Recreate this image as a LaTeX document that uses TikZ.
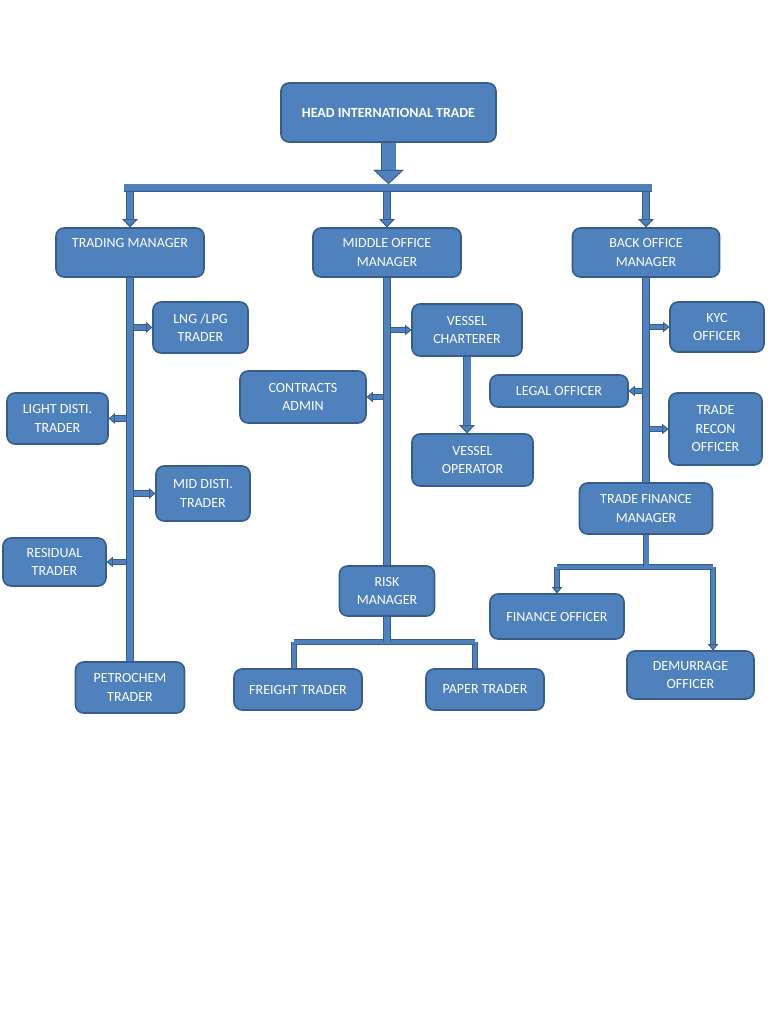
\documentclass[tikz,border=0pt]{standalone}
\usepackage{fontspec}
\setmainfont{Carlito}
\usetikzlibrary{arrows.meta}
\definecolor{boxblue}{RGB}{79,129,189}
\definecolor{edgeblue}{RGB}{56,93,138}

\begin{document}
\begin{tikzpicture}[x=1pt, y=-1pt,
  post/.style={draw=edgeblue, line width=1.6pt, fill=boxblue, rounded corners=8pt,
    text=white, align=center, inner sep=0pt, font=\fontsize{14}{18.5}\selectfont},
  boxsize/.style 2 args={minimum width=#1, minimum height=#2},
  bar/.style={line width=#1, draw=boxblue, preaction={draw=edgeblue, line width=#1+1.6pt}},
  sm/.tip={Triangle[width=10pt, length=6pt, line width=0.8pt, color=edgeblue, fill=boxblue]},
  md/.tip={Triangle[width=15pt, length=8pt, line width=0.8pt, color=edgeblue, fill=boxblue]},
  lg/.tip={Triangle[width=30pt, length=14pt, line width=0.8pt, color=edgeblue, fill=boxblue]}]

  \useasboundingbox (0,0) rectangle (768,1024);

  % --- head and managers ---
  \node[post, boxsize={215}{59}, font=\fontsize{14}{18.5}\selectfont\bfseries] (head) at (388.5,112.5)
    {HEAD INTERNATIONAL TRADE};
  \node[post, boxsize={148}{49}] (tm)  at (130,252.5) {TRADING MANAGER\\\mbox{}};
  \node[post, boxsize={148}{49}] (mom) at (387,252.5) {MIDDLE OFFICE\\MANAGER};
  \node[post, boxsize={147}{49}] (bom) at (646,252.5) {BACK OFFICE\\MANAGER};

  % --- trading desk ---
  \node[post, boxsize={95}{51}]  (lng)   at (200.5,327.5) {LNG /LPG\\TRADER};
  \node[post, boxsize={101}{51}] (light) at (57.5,418.5)  {LIGHT DISTI.\\TRADER};
  \node[post, boxsize={94}{55}]  (mid)   at (203,493.5)   {MID DISTI.\\TRADER};
  \node[post, boxsize={103}{48}] (resid) at (54.5,562)    {RESIDUAL\\TRADER};
  \node[post, boxsize={109}{51}] (petro) at (130,687.5)   {PETROCHEM\\TRADER};

  % --- middle office ---
  \node[post, boxsize={110}{52}] (vch)     at (467,330)   {VESSEL\\CHARTERER};
  \node[post, boxsize={126}{52}] (cadm)    at (303,397)   {CONTRACTS\\ADMIN};
  \node[post, boxsize={121}{52}] (vop)     at (472.5,460) {VESSEL\\OPERATOR};
  \node[post, boxsize={95}{50}]  (risk)    at (387,591)   {RISK\\MANAGER};
  \node[post, boxsize={128}{41}] (freight) at (298,689.5) {FREIGHT TRADER};
  \node[post, boxsize={118}{41}] (paper)   at (485,689.5) {PAPER TRADER};

  % --- back office ---
  \node[post, boxsize={94}{50}]  (kyc)   at (717,327)   {KYC\\OFFICER};
  \node[post, boxsize={138}{32}] (legal) at (559,391)   {LEGAL OFFICER};
  \node[post, boxsize={93}{72}]  (recon) at (715.5,429) {TRADE\\RECON\\OFFICER};
  \node[post, boxsize={133}{51}] (tfm)   at (646,508.5) {TRADE FINANCE\\MANAGER};
  \node[post, boxsize={134}{45}] (fin)   at (557,616.5) {FINANCE OFFICER};
  \node[post, boxsize={127}{48}] (dem)   at (690.5,675) {DEMURRAGE\\OFFICER};

  % --- bus under the head ---
  \coordinate (busL) at (124,188);
  \coordinate (busR) at (652,188);
  \coordinate (busTop) at (388.5,184);
  \foreach \m in {tm, mom, bom}
    \draw[bar=6pt, -md] (\m.north |- busL) -- (\m.north);
  \draw[bar=7pt] (busL) -- (busR);
  \draw[bar=14pt, -lg] (head.south) -- (busTop);

  % --- side feeds ---
  \foreach \t in {lng, mid}
    \draw[bar=4.5pt, -sm] (tm.south |- \t.west) -- (\t.west);
  \foreach \t in {light, resid}
    \draw[bar=4.5pt, -sm] (tm.south |- \t.east) -- (\t.east);
  \draw[bar=4.5pt, -sm] (mom.south |- vch.west) -- (vch.west);
  \draw[bar=4.5pt, -sm] (mom.south |- cadm.east) -- (cadm.east);
  \foreach \t in {kyc, recon}
    \draw[bar=4.5pt, -sm] (bom.south |- \t.west) -- (\t.west);
  \draw[bar=4.5pt, -sm] (bom.south |- legal.east) -- (legal.east);

  % --- trunks ---
  \draw[bar=6.5pt] (tm.south) -- (petro.north);
  \draw[bar=6.5pt] (mom.south) -- (risk.north);
  \draw[bar=6.5pt] (bom.south) -- (tfm.north);
  \draw[bar=7pt, -md] (vch.south) -- (vch.south |- vop.north);

  % --- risk split ---
  \coordinate (rbL) at (294,642);
  \coordinate (rbR) at (475,642);
  \draw[bar=4pt] (rbL) -- (rbL |- freight.north);
  \draw[bar=4pt] (rbR) -- (rbR |- paper.north);
  \draw[bar=4.5pt] (rbL) -- (rbR);
  \draw[bar=6pt] (risk.south) -- (risk.south |- rbL);

  % --- trade finance split ---
  \coordinate (fbL) at (557,567);
  \coordinate (fbR) at (713,567);
  \draw[bar=4pt, -sm] (fbL) -- (fin.north);
  \draw[bar=4.5pt, -sm] (fbR) -- (fbR |- dem.north);
  \draw[bar=4.5pt] (fbL) -- (fbR);
  \draw[bar=5pt] (tfm.south) -- (tfm.south |- fbL);

\end{tikzpicture}
\end{document}
